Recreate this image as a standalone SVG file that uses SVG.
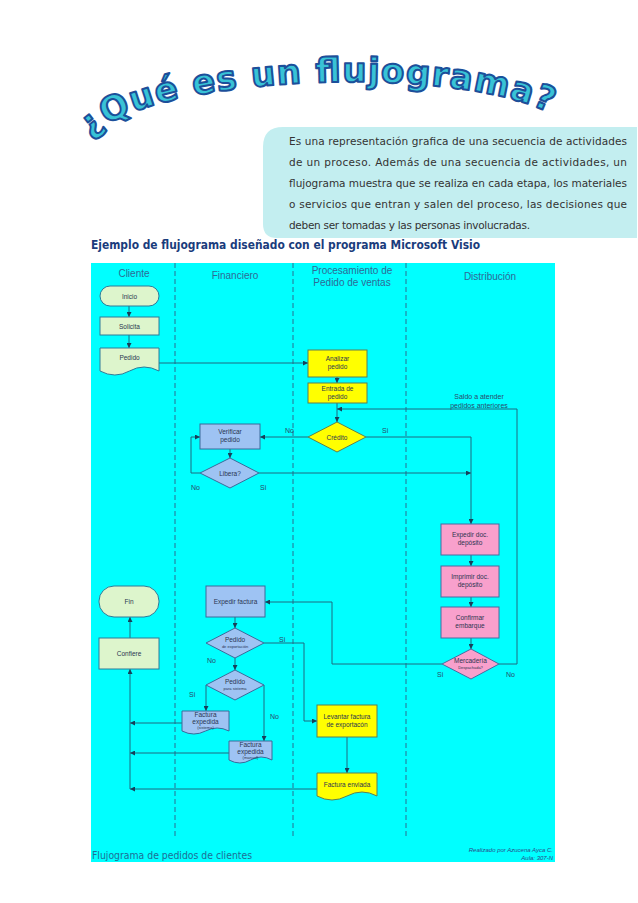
<svg xmlns="http://www.w3.org/2000/svg" width="638" height="903" viewBox="0 0 638 903">
<defs>
<marker id="ah" viewBox="0 0 6 6" refX="6" refY="3" markerWidth="5" markerHeight="5" orient="auto" markerUnits="userSpaceOnUse">
<path d="M0,0 L6,3 L0,6 Z" fill="#17405a"/>
</marker>
<path id="arc" d="M 90 138 C 150 72, 478 62, 562 120"/>
<style>
.t{font-family:"Liberation Sans",Arial,sans-serif;fill:#2a3550;text-anchor:middle}
.n{font-size:6.5px}
.s{font-size:4px}
.h{font-family:"Liberation Sans",Arial,sans-serif;font-size:10px;fill:#2e6a96;text-anchor:middle}
.l{font-family:"Liberation Sans",Arial,sans-serif;font-size:7px;fill:#2a4a6a}
.g{fill:#ddf5cc;stroke:#2f7a98;stroke-width:1}
.y{fill:#ffff00;stroke:#5f7f50;stroke-width:1}
.b{fill:#9ec3f3;stroke:#3a6a9a;stroke-width:1}
.p{fill:#f8a0cc;stroke:#4a6aa0;stroke-width:1}
.c{fill:none;stroke:#1f6a80;stroke-width:1}
.a{marker-end:url(#ah)}
.d{stroke:#2a6e90;stroke-width:1;stroke-dasharray:5,3}
.bx{font-family:"DejaVu Sans",Verdana,sans-serif;font-size:10.5px;fill:#333}
</style>
</defs>
<rect width="638" height="903" fill="#ffffff"/>

<g id="title">
<text font-family="DejaVu Sans,Verdana,sans-serif" font-weight="bold" font-size="34" fill="#38c3d6" stroke="#1c4f9a" stroke-width="2" stroke-linejoin="round"><textPath href="#arc" startOffset="0" textLength="474" lengthAdjust="spacing">¿Qué es un flujograma?</textPath></text>
</g>

<g id="intro">
<path d="M283,127 H637 V238 H277 Q263,238 263,224 V147 Q263,127 283,127 Z" fill="#c3eef0"/>
<text class="bx" x="289" y="145" textLength="338" lengthAdjust="spacing">Es una representación grafica de una secuencia de actividades</text>
<text class="bx" x="289" y="166" textLength="338" lengthAdjust="spacing">de un proceso. Además de una secuencia de actividades, un</text>
<text class="bx" x="289" y="187" textLength="338" lengthAdjust="spacing">flujograma muestra que se realiza en cada etapa, los materiales</text>
<text class="bx" x="289" y="208" textLength="338" lengthAdjust="spacing">o servicios que entran y salen del proceso, las decisiones que</text>
<text class="bx" x="289" y="229" textLength="241" lengthAdjust="spacing">deben ser tomadas y las personas involucradas.</text>
</g>

<text x="91" y="249" font-family="DejaVu Sans,Verdana,sans-serif" font-weight="bold" font-size="11.5" fill="#1a3c7c" textLength="389" lengthAdjust="spacingAndGlyphs">Ejemplo de flujograma diseñado con el programa Microsoft Visio</text>

<g id="diagram-bg">
<rect x="91" y="263" width="464" height="599" fill="#00ffff"/>
<line class="d" x1="175" y1="263" x2="175" y2="836"/>
<line class="d" x1="293" y1="263" x2="293" y2="836"/>
<line class="d" x1="406" y1="263" x2="406" y2="836"/>
<text class="h" x="134" y="277">Cliente</text>
<text class="h" x="235" y="279">Financiero</text>
<text class="h" x="352" y="274">Procesamiento de</text>
<text class="h" x="352" y="286">Pedido de ventas</text>
<text class="h" x="490" y="280">Distribución</text>
</g>

<g id="connectors">
<path class="c a" d="M129,306 V317"/>
<path class="c a" d="M129,335 V348"/>
<path class="c a" d="M159,363 H308"/>
<path class="c a" d="M337,377 V383"/>
<path class="c a" d="M337,403 V422"/>
<path class="c a" d="M308,437 H260"/>
<path class="c a" d="M230,449 V458"/>
<path class="c a" d="M200,473 H191 V437 H200"/>
<path class="c a" d="M259,473 H471"/>
<path class="c a" d="M366,437 H471 V524"/>
<path class="c a" d="M471,555 V566"/>
<path class="c a" d="M471,597 V607"/>
<path class="c a" d="M471,638 V649"/>
<path class="c a" d="M499,664 H517 V409 H337"/>
<path class="c a" d="M442,664 H332 V602 H265"/>
<path class="c a" d="M235,617 V628"/>
<path class="c a" d="M264,643 H304 V721 H317"/>
<path class="c a" d="M235,658 V670"/>
<path class="c a" d="M206,685 V711"/>
<path class="c a" d="M264,685 V741"/>
<path class="c a" d="M182,723 H130"/>
<path class="c a" d="M229,753 H130"/>
<path class="c a" d="M317,789 H130"/>
<path class="c a" d="M130,789 V669"/>
<path class="c a" d="M130,638 V617"/>
<path class="c a" d="M347,737 V773"/>
<text class="l" x="285" y="433">No</text>
<text class="l" x="382" y="433">Si</text>
<text class="l" x="191" y="490">No</text>
<text class="l" x="260" y="490">Si</text>
<text class="l" x="479" y="399" text-anchor="middle">Saldo a atender</text>
<text class="l" x="479" y="408" text-anchor="middle">pedidos anteriores</text>
<text class="l" x="437" y="677">Si</text>
<text class="l" x="506" y="677">No</text>
<text class="l" x="279" y="642">Si</text>
<text class="l" x="207" y="663">No</text>
<text class="l" x="189" y="697">Si</text>
<text class="l" x="270" y="719">No</text>
</g>

<g id="inicio"><rect class="g" x="100" y="286" width="59" height="20" rx="10"/><text class="t n" x="129.5" y="298.5">Inicio</text></g>
<g id="solicita"><rect class="g" x="100" y="317" width="59" height="18"/><text class="t n" x="129.5" y="328.5">Solicita</text></g>
<g id="pedido"><path class="g" d="M100,348 H159 V371 Q144,363 129.5,371 Q115,379 100,371 Z"/><text class="t n" x="129.5" y="360">Pedido</text></g>
<g id="analizar"><rect class="y" x="308" y="350" width="59" height="27"/><text class="t n" x="337.5" y="361">Analizar</text><text class="t n" x="337.5" y="369">pedido</text></g>
<g id="entrada"><rect class="y" x="308" y="383" width="59" height="20"/><text class="t n" x="337.5" y="391">Entrada de</text><text class="t n" x="337.5" y="399">pedido</text></g>
<g id="credito"><path class="y" d="M337,422 L366,437 L337,452 L308,437 Z"/><text class="t n" x="337" y="439.5">Crédito</text></g>
<g id="verificar"><rect class="b" x="200" y="424" width="60" height="25"/><text class="t n" x="230" y="434">Verificar</text><text class="t n" x="230" y="442">pedido</text></g>
<g id="libera"><path class="b" d="M230,458 L259,473 L230,488 L200,473 Z"/><text class="t n" x="230" y="475.5">Libera?</text></g>
<g id="expedir-doc"><rect class="p" x="441" y="524" width="58" height="31"/><text class="t n" x="470" y="537">Expedir doc.</text><text class="t n" x="470" y="545">depósito</text></g>
<g id="imprimir-doc"><rect class="p" x="441" y="566" width="58" height="31"/><text class="t n" x="470" y="579">Imprimir doc.</text><text class="t n" x="470" y="587">depósito</text></g>
<g id="confirmar"><rect class="p" x="441" y="607" width="58" height="31"/><text class="t n" x="470" y="620">Confirmar</text><text class="t n" x="470" y="628">embarque</text></g>
<g id="mercaderia"><path class="p" d="M471,649 L499,664 L471,679 L442,664 Z"/><text class="t n" x="470.5" y="663">Mercadería</text><text class="t s" x="470.5" y="669">Despachada?</text></g>
<g id="fin"><rect class="g" x="99" y="586" width="60" height="31" rx="15"/><text class="t n" x="129" y="604">Fin</text></g>
<g id="confiere"><rect class="g" x="99" y="638" width="60" height="31"/><text class="t n" x="129" y="656">Confiere</text></g>
<g id="expedir-factura"><rect class="b" x="206" y="586" width="59" height="31"/><text class="t n" x="235.5" y="604">Expedir factura</text></g>
<g id="pedido-exportacion"><path class="b" d="M235,628 L264,643 L235,658 L206,643 Z"/><text class="t n" x="235" y="642">Pedido</text><text class="t s" x="235" y="648">de exportación</text></g>
<g id="pedido-sistema"><path class="b" d="M235,670 L264,685 L235,700 L206,685 Z"/><text class="t n" x="235" y="684">Pedido</text><text class="t s" x="235" y="690">para sistema</text></g>
<g id="factura-sistema"><path class="b" d="M182,711 H229 V731 Q217,725 205.5,731 Q194,737 182,731 Z"/><text class="t n" x="205.5" y="717">Factura</text><text class="t n" x="205.5" y="724">expedida</text><text class="t s" x="205.5" y="729">(sistema)</text></g>
<g id="factura-manual"><path class="b" d="M229,741 H272 V760 Q261,754 250.5,760 Q240,766 229,760 Z"/><text class="t n" x="250.5" y="747">Factura</text><text class="t n" x="250.5" y="754">expedida</text><text class="t s" x="250.5" y="759">(manual)</text></g>
<g id="levantar"><rect class="y" x="317" y="705" width="60" height="32"/><text class="t n" x="347" y="719">Levantar factura</text><text class="t n" x="347" y="727">de exportacón</text></g>
<g id="factura-enviada"><path class="y" d="M317,773 H377 V796 Q362,788 347,796 Q332,804 317,796 Z"/><text class="t n" x="347" y="787">Factura enviada</text></g>

<text x="92" y="859" font-family="DejaVu Sans,Verdana,sans-serif" font-size="11" fill="#1e6e96" textLength="160" lengthAdjust="spacingAndGlyphs">Flujograma de pedidos de clientes</text>
<text x="553" y="852" font-family="Liberation Sans,Arial,sans-serif" font-style="italic" font-size="6" fill="#2b4b8a" text-anchor="end">Realizado por Azucena Ayca C.</text>
<text x="553" y="860" font-family="Liberation Sans,Arial,sans-serif" font-style="italic" font-size="6" fill="#2b4b8a" text-anchor="end">Aula: 307-N</text>
</svg>
